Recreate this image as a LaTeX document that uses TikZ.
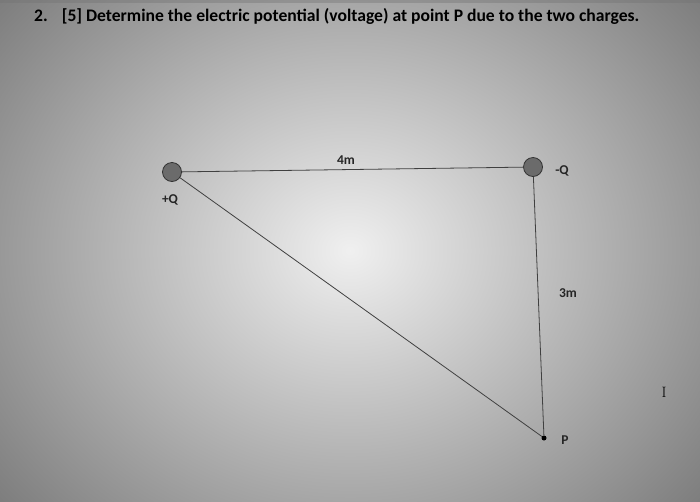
\documentclass[tikz,border=0pt]{standalone}
\usepackage{fontspec}
\setmainfont{Carlito}
\begin{document}
\begin{tikzpicture}[x=1pt,y=-1pt,
  charge/.style={circle,draw=black!80,line width=0.8pt,fill=black!58,minimum size=19pt,inner sep=0pt},
  dotp/.style={circle,fill=black,minimum size=5pt,inner sep=0pt},
  lbl/.style={font=\fontsize{13.5}{15}\selectfont\bfseries,text=black!85},
  wire/.style={draw=black!75,line width=0.8pt}]
\useasboundingbox (0,0) rectangle (700,501);
\shade[inner color=black!6,outer color=black!52] (-120,-150) rectangle (820,651);
\fill[black!55,opacity=0.4] (0,0) rectangle (700,3);
\node[anchor=west,font=\fontsize{17.6}{20}\selectfont\bfseries,inner sep=0pt] (title) at (34,16) {2.\hspace{14pt}[5] Determine the electric potential (voltage) at point P due to the two charges.};
\node[charge] (qp) at (172,172) {};
\node[charge] (qm) at (533,167) {};
\node[dotp] (p) at (544,438) {};
\draw[wire] (qp) -- (qm);
\draw[wire] (qm) -- (p);
\draw[wire] (qp) -- (p);
\node[lbl] (l4) at (346,160) {4m};
\node[lbl] (lqm) at (562,171) {-Q};
\node[lbl] (lqp) at (170,200) {+Q};
\node[lbl] (l3) at (568,293) {3m};
\node[lbl] (lp) at (565,440) {P};
\node[font=\fontfamily{lmr}\fontsize{15}{17}\selectfont] (cur) at (664,392) {I};
\end{tikzpicture}
\end{document}
